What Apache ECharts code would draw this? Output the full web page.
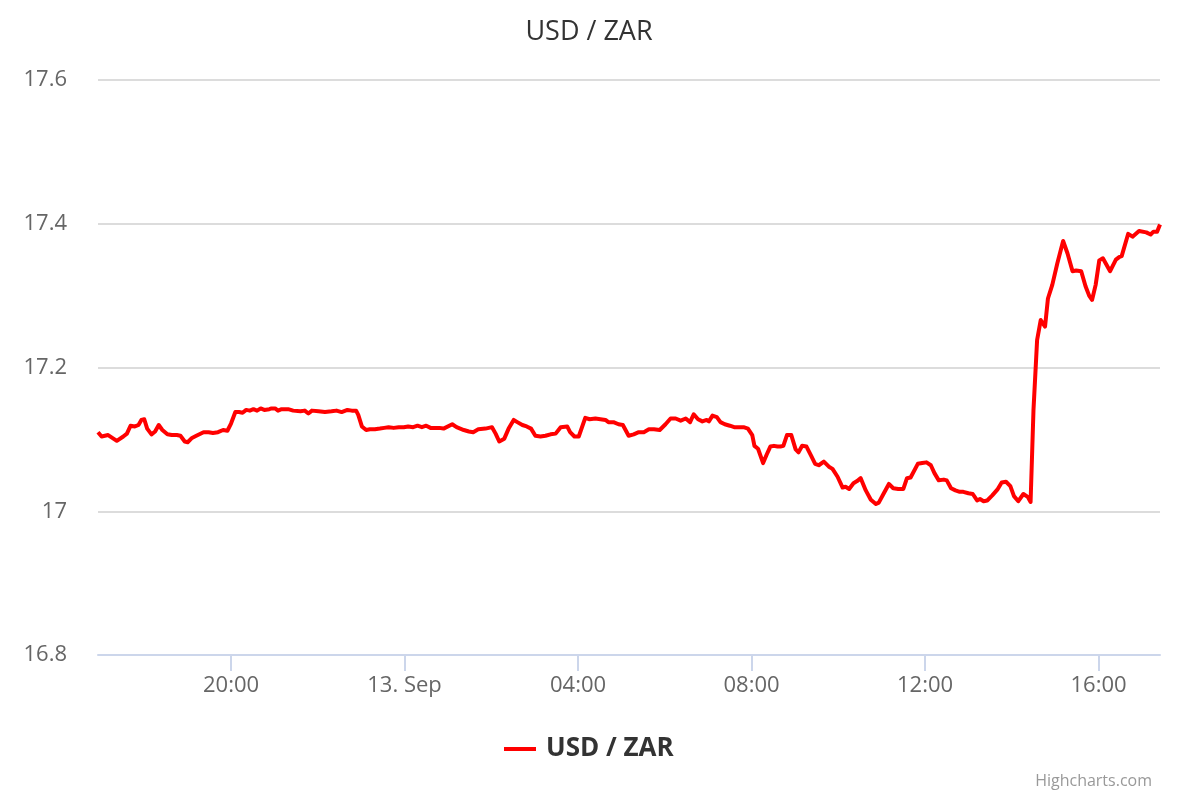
<!DOCTYPE html>
<html>
<head>
<meta charset="utf-8">
<script src="https://cdn.jsdelivr.net/npm/echarts@6/dist/echarts.min.js"></script>
<style>
html,body{margin:0;padding:0;background:#fff;}
#chart{width:1200px;height:800px;}
</style>
</head>
<body>
<div id="chart"></div>
<script>
// minutes since 2022-09-12 00:00
const minutesSinceSep12 = [1016,1021,1030,1042,1051,1056,1061,1067,1072,1076,1080,1084,1090,1095,1100,1105,1112,1118,1125,1130,1136,1140,1146,1152,1162,1169,1175,1182,1189,1195,1200,1206,1211,1216,1221,1226,1231,1236,1241,1246,1253,1256,1261,1265,1270,1279,1286,1296,1302,1307,1312,1321,1330,1339,1346,1353,1361,1367,1373,1376,1381,1387,1392,1399,1406,1412,1418,1425,1432,1439,1445,1452,1458,1464,1470,1476,1482,1488,1494,1506,1512,1522,1529,1535,1542,1552,1561,1566,1571,1578,1584,1591,1596,1603,1609,1615,1621,1628,1635,1642,1649,1656,1665,1669,1675,1681,1690,1696,1704,1711,1718,1722,1729,1736,1742,1750,1757,1764,1771,1778,1785,1793,1801,1808,1815,1822,1829,1835,1840,1846,1852,1858,1861,1866,1872,1877,1883,1890,1896,1902,1909,1915,1921,1924,1929,1936,1941,1946,1951,1956,1960,1964,1969,1975,1981,1985,1990,1996,2002,2008,2013,2020,2027,2032,2039,2046,2050,2055,2061,2066,2071,2078,2085,2092,2096,2103,2110,2116,2123,2130,2135,2140,2150,2156,2162,2168,2173,2179,2186,2190,2196,2202,2208,2213,2220,2226,2232,2236,2241,2246,2253,2260,2266,2272,2278,2283,2289,2296,2302,2306,2310,2315,2320,2326,2330,2336,2343,2351,2357,2364,2369,2376,2382,2387,2391,2396,2401,2406,2416,2424,2429,2432,2441,2447,2456,2466,2472,2476,2481,2485];
const rates = [17.110,17.104,17.106,17.098,17.104,17.108,17.119,17.118,17.120,17.127,17.128,17.115,17.107,17.111,17.120,17.113,17.107,17.106,17.106,17.105,17.097,17.096,17.102,17.105,17.110,17.110,17.109,17.110,17.113,17.112,17.122,17.138,17.138,17.137,17.141,17.140,17.142,17.140,17.143,17.141,17.142,17.143,17.143,17.140,17.142,17.142,17.140,17.139,17.140,17.136,17.140,17.139,17.138,17.139,17.140,17.138,17.141,17.140,17.140,17.134,17.118,17.113,17.114,17.114,17.115,17.116,17.117,17.116,17.117,17.117,17.118,17.117,17.119,17.117,17.119,17.116,17.116,17.116,17.115,17.121,17.117,17.113,17.111,17.110,17.114,17.115,17.117,17.108,17.097,17.101,17.115,17.127,17.124,17.120,17.118,17.115,17.105,17.104,17.105,17.107,17.108,17.117,17.118,17.110,17.104,17.104,17.130,17.128,17.129,17.128,17.127,17.124,17.124,17.121,17.120,17.105,17.107,17.110,17.110,17.114,17.114,17.113,17.121,17.129,17.129,17.126,17.129,17.124,17.135,17.128,17.125,17.127,17.125,17.133,17.131,17.124,17.121,17.119,17.117,17.117,17.117,17.115,17.106,17.091,17.087,17.067,17.079,17.090,17.091,17.090,17.090,17.091,17.106,17.106,17.086,17.082,17.091,17.090,17.078,17.066,17.064,17.069,17.062,17.059,17.048,17.033,17.034,17.031,17.039,17.042,17.046,17.029,17.016,17.010,17.012,17.025,17.038,17.032,17.031,17.031,17.046,17.047,17.066,17.067,17.068,17.064,17.053,17.043,17.044,17.043,17.032,17.029,17.027,17.027,17.025,17.024,17.015,17.017,17.014,17.015,17.022,17.030,17.040,17.041,17.035,17.021,17.014,17.024,17.020,17.013,17.141,17.238,17.266,17.257,17.296,17.315,17.345,17.376,17.359,17.334,17.335,17.334,17.313,17.300,17.294,17.315,17.349,17.352,17.334,17.350,17.354,17.355,17.386,17.382,17.390,17.388,17.385,17.389,17.389,17.399];
const tickMinutes = [1200,1440,1680,1920,2160,2400];
const tickLabels = ['20:00','13. Sep','04:00','08:00','12:00','16:00'];
const yTicks = [16.8,17,17.2,17.4,17.6];

const base = Date.UTC(2022, 8, 12);
const toTs = m => base + m * 60000;
const seriesData = minutesSinceSep12.map((m, i) => [toTs(m), rates[i]]);
const tickTs = tickMinutes.map(toTs);

const FONT = '"Open Sans", "Noto Sans", sans-serif';
const chart = echarts.init(document.getElementById('chart'), null, {renderer: 'canvas'});
chart.setOption({
  animation: false,
  backgroundColor: '#ffffff',
  title: {
    text: 'USD / ZAR',
    left: 584, textAlign: 'center',
    top: 14,
    textStyle: {fontFamily: FONT, fontSize: 27, fontWeight: 'normal', color: '#333333'}
  },
  legend: {
    left: 499, top: 731,
    icon: 'rect', itemWidth: 32, itemHeight: 4,
    textStyle: {fontFamily: FONT, fontSize: 26, fontWeight: 'bold', color: '#333333', padding: [0,0,0,5]},
    data: ['USD / ZAR']
  },
  graphic: [{
    type: 'text', right: 48, top: 773,
    style: {text: 'Highcharts.com', fontFamily: FONT, fontSize: 16, fill: '#999999'}
  }],
  grid: {left: 98, right: 40, top: 80, bottom: 145, containLabel: false},
  xAxis: {
    type: 'value',
    min: toTs(minutesSinceSep12[0]),
    max: toTs(minutesSinceSep12[minutesSinceSep12.length - 1]),
    axisLine: {show: true, lineStyle: {color: '#ccd6eb', width: 2}},
    axisTick: {show: true, length: 16, customValues: tickTs, lineStyle: {color: '#ccd6eb', width: 2}},
    axisLabel: {
      customValues: tickTs, margin: 20,
      fontFamily: FONT, fontSize: 22, color: '#666666',
      formatter: v => { const i = tickTs.indexOf(v); return i >= 0 ? tickLabels[i] : ''; }
    },
    splitLine: {show: false}
  },
  yAxis: {
    type: 'value', min: yTicks[0], max: yTicks[yTicks.length - 1], interval: 0.2,
    axisLine: {show: false}, axisTick: {show: false},
    axisLabel: {margin: 31, fontFamily: FONT, fontSize: 22, color: '#666666', padding: [4,0,0,0],
      formatter: v => String(Math.round(v * 10) / 10)},
    splitLine: {show: true, lineStyle: {color: '#dcdcdc', width: 2}}
  },
  series: [{
    name: 'USD / ZAR',
    type: 'line',
    data: seriesData,
    showSymbol: false,
    symbol: 'none',
    color: '#ff0000',
    lineStyle: {color: '#ff0000', width: 4, join: 'round'}
  }]
});
</script>
</body>
</html>
